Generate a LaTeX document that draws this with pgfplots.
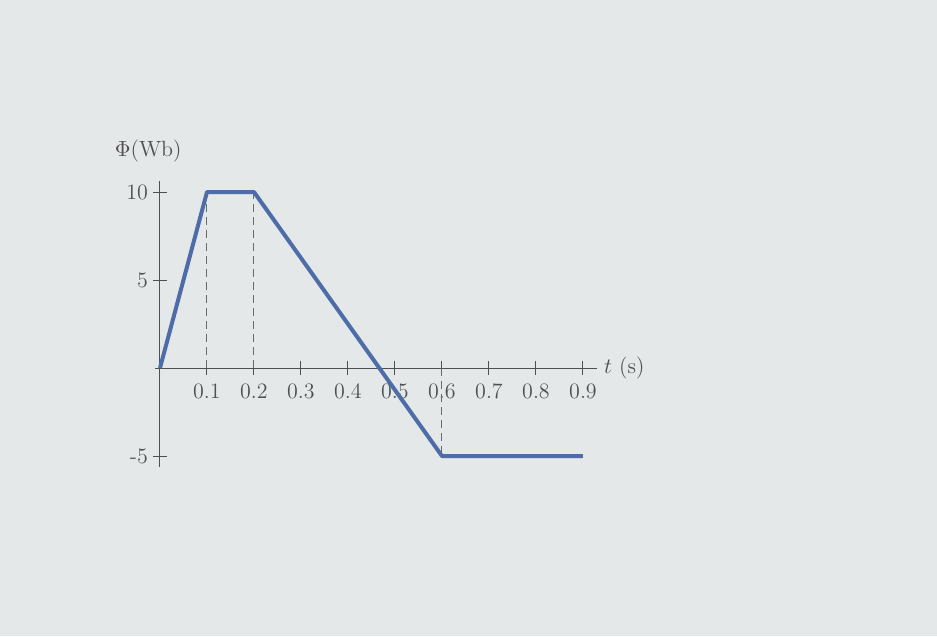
\documentclass[border=0pt]{standalone}
\usepackage{pgfplots}
\pgfplotsset{compat=1.18}
\definecolor{bg}{RGB}{229,232,233}
\definecolor{fluxblue}{RGB}{78,108,168}
\definecolor{inkgray}{RGB}{80,80,84}
\begin{document}
\begin{tikzpicture}
\begin{axis}[
  set layers,
  x=235pt, y=8.8pt,
  axis lines=middle,
  axis line style={-, inkgray, line width=0.5pt},
  xmin=-0.01, xmax=0.93,
  ymin=-5.6, ymax=10.6,
  clip=false,
  xtick={0.1,0.2,0.3,0.4,0.5,0.6,0.7,0.8,0.9},
  xticklabels={0.1,0.2,0.3,0.4,0.5,0.6,0.7,0.8,0.9},
  ytick={-5,5,10},
  yticklabels={-5,5,10},
  tick align=center,
  major tick length=7pt,
  tick style={inkgray, line width=0.5pt},
  ticklabel style={text=inkgray, font=\fontsize{11}{13}\selectfont},
  xticklabel style={yshift=-1pt},
  yticklabel style={xshift=1pt},
  xlabel={$t$ (s)},
  ylabel={$\Phi$(Wb)},
  every axis x label/.style={at={(axis cs:0.93,0)}, anchor=west, text=inkgray, font=\fontsize{11}{13}\selectfont},
  every axis y label/.style={at={(axis cs:-0.025,11.3)}, anchor=south, text=inkgray, font=\fontsize{11}{13}\selectfont},
]
\begin{pgfonlayer}{axis background}
\fill[bg] (axis cs:-0.3404,-15.23) rectangle (axis cs:1.6532,20.91);
\end{pgfonlayer}
% guide lines
\addplot[inkgray!85, dash pattern=on 4pt off 2.5pt, line width=0.5pt] coordinates {(0.1,0) (0.1,10)};
\addplot[inkgray!85, dash pattern=on 4pt off 2.5pt, line width=0.5pt] coordinates {(0.2,0) (0.2,10)};
\addplot[inkgray!85, dash pattern=on 4pt off 2.5pt, line width=0.5pt] coordinates {(0.6,0) (0.6,-5)};
% flux
\addplot[fluxblue, line width=2pt, line join=round] coordinates {
  (0,0) (0.1,10) (0.2,10) (0.6,-5) (0.9,-5)
};
\end{axis}
\end{tikzpicture}
\end{document}
